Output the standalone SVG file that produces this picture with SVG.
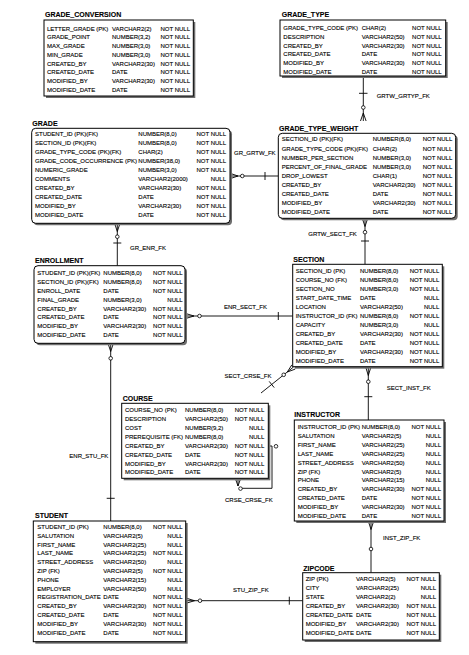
<svg xmlns="http://www.w3.org/2000/svg" width="469" height="655" viewBox="0 0 469 655">
<style>
.bg{fill:#fff}
.box{fill:#fff;stroke:#000;stroke-width:1}
.sh{fill:#6e6e6e}
text{font-family:"Liberation Sans",Arial,sans-serif;font-size:6px;fill:#000;stroke:#000;stroke-width:0.12}
.tt{font-size:7px;font-weight:bold;stroke-width:0.1}
.r{text-anchor:end}
.ln{stroke:#000;stroke-width:0.9;fill:none}
.ci{fill:#fff;stroke:#000;stroke-width:0.8}
</style>
<rect class="bg" x="0" y="0" width="469" height="655"/>

<g id="connectors">
  <!-- GRTW_GRTYP_FK -->
  <path class="ln" d="M363.3,76 V121 M359,93.3 H367.5 M363.3,113 L360.5,121 M363.3,113 L366.1,121"/>
  <circle class="ci" cx="363.3" cy="107.5" r="1.8"/>
  <text x="376.7" y="97.8">GRTW_GRTYP_FK</text>
  <!-- GR_GRTW_FK -->
  <path class="ln" d="M230,176 H278.3 M265,172 V180 M238,176 L230,173.3 M238,176 L230,178.7"/>
  <circle class="ci" cx="242.3" cy="176" r="1.8"/>
  <text x="234" y="154.5">GR_GRTW_FK</text>
  <!-- GR_ENR_FK -->
  <path class="ln" d="M117.3,223.3 V265.7 M113.3,243 H121.3 M117.3,231.5 L114.6,223.3 M117.3,231.5 L120,223.3"/>
  <circle class="ci" cx="117.3" cy="236.7" r="1.8"/>
  <text x="130" y="250.4">GR_ENR_FK</text>
  <!-- GRTW_SECT_FK -->
  <path class="ln" d="M365,218.3 V264.3 M361,241 H369 M365,226.5 L362.3,218.3 M365,226.5 L367.7,218.3"/>
  <circle class="ci" cx="365" cy="232.2" r="1.8"/>
  <text x="308.3" y="236">GRTW_SECT_FK</text>
  <!-- ENR_SECT_FK -->
  <path class="ln" d="M185,316 H292.7 M278.3,312 V320 M194,316 L185,313.3 M194,316 L185,318.7"/>
  <circle class="ci" cx="199.5" cy="316" r="1.8"/>
  <text x="224" y="308.8">ENR_SECT_FK</text>
  <!-- SECT_CRSE_FK -->
  <path class="ln" d="M293.5,367 L261,393 M287.3,372 L295.2,369.1 M287.3,372 L291.8,364.9 M274.2,387.6 L269.2,381.4"/>
  <circle class="ci" cx="283.7" cy="374.8" r="1.8"/>
  <text class="r" x="271.5" y="377.6">SECT_CRSE_FK</text>
  <!-- SECT_INST_FK -->
  <path class="ln" d="M368.3,366.7 V420 M364.3,396.7 H372.3 M368.3,375.5 L365.6,366.7 M368.3,375.5 L371,366.7"/>
  <circle class="ci" cx="368.3" cy="381.7" r="1.8"/>
  <text x="386.7" y="390.4">SECT_INST_FK</text>
  <!-- CRSE_CRSE_FK -->
  <path class="ln" d="M268.3,446 H272 V488.3 H240.5 M238,478.3 V486 M238,486 L235.3,478.3 M238,486 L240.7,478.3"/>
  <circle class="ci" cx="276" cy="446.3" r="1.8"/>
  <circle class="ci" cx="240.5" cy="488.6" r="1.8"/>
  <text x="225" y="502">CRSE_CRSE_FK</text>
  <!-- ENR_STU_FK -->
  <path class="ln" d="M110.7,343.3 V521 M106.7,498.3 H114.7 M110.7,351.5 L108,343.3 M110.7,351.5 L113.4,343.3"/>
  <circle class="ci" cx="110.7" cy="358.3" r="1.8"/>
  <text x="69.3" y="458">ENR_STU_FK</text>
  <!-- INST_ZIP_FK -->
  <path class="ln" d="M371,521 V572.7 M371,529.5 L368.3,521 M371,529.5 L373.7,521"/>
  <circle class="ci" cx="371" cy="549" r="1.8"/>
  <text x="383" y="539.5">INST_ZIP_FK</text>
  <!-- STU_ZIP_FK -->
  <path class="ln" d="M185.7,600.7 H302.7 M289.3,596.7 V604.7 M194.5,600.7 L185.7,598 M194.5,600.7 L185.7,603.4"/>
  <circle class="ci" cx="200" cy="600.7" r="1.8"/>
  <text x="233" y="592.3">STU_ZIP_FK</text>
</g>

<g id="grade_conversion">
  <text class="tt" x="45" y="17.3">GRADE_CONVERSION</text>
  <rect class="sh" x="46" y="22" width="149.3" height="76"/>
  <rect class="box" x="44" y="20" width="149.3" height="76"/>
  <text x="47" y="30.5">LETTER_GRADE (PK)</text><text x="112" y="30.5">VARCHAR2(2)</text><text class="r" x="190" y="30.5">NOT NULL</text>
  <text x="47" y="39.2">GRADE_POINT</text><text x="112" y="39.2">NUMBER(3,2)</text><text class="r" x="190" y="39.2">NOT NULL</text>
  <text x="47" y="48">MAX_GRADE</text><text x="112" y="48">NUMBER(3,0)</text><text class="r" x="190" y="48">NOT NULL</text>
  <text x="47" y="56.8">MIN_GRADE</text><text x="112" y="56.8">NUMBER(3,0)</text><text class="r" x="190" y="56.8">NOT NULL</text>
  <text x="47" y="65.5">CREATED_BY</text><text x="112" y="65.5">VARCHAR2(30)</text><text class="r" x="190" y="65.5">NOT NULL</text>
  <text x="47" y="74.3">CREATED_DATE</text><text x="112" y="74.3">DATE</text><text class="r" x="190" y="74.3">NOT NULL</text>
  <text x="47" y="83">MODIFIED_BY</text><text x="112" y="83">VARCHAR2(30)</text><text class="r" x="190" y="83">NOT NULL</text>
  <text x="47" y="91.8">MODIFIED_DATE</text><text x="112" y="91.8">DATE</text><text class="r" x="190" y="91.8">NOT NULL</text>
</g>

<g id="grade_type">
  <text class="tt" x="281.7" y="17.3">GRADE_TYPE</text>
  <rect class="sh" x="282" y="22" width="165.7" height="56"/>
  <rect class="box" x="280" y="20" width="165.7" height="56"/>
  <text x="283.3" y="29.8">GRADE_TYPE_CODE (PK)</text><text x="361.7" y="29.8">CHAR(2)</text><text class="r" x="441.7" y="29.8">NOT NULL</text>
  <text x="283.3" y="38.7">DESCRIPTION</text><text x="361.7" y="38.7">VARCHAR2(50)</text><text class="r" x="441.7" y="38.7">NOT NULL</text>
  <text x="283.3" y="47.6">CREATED_BY</text><text x="361.7" y="47.6">VARCHAR2(30)</text><text class="r" x="441.7" y="47.6">NOT NULL</text>
  <text x="283.3" y="56.4">CREATED_DATE</text><text x="361.7" y="56.4">DATE</text><text class="r" x="441.7" y="56.4">NOT NULL</text>
  <text x="283.3" y="65.3">MODIFIED_BY</text><text x="361.7" y="65.3">VARCHAR2(30)</text><text class="r" x="441.7" y="65.3">NOT NULL</text>
  <text x="283.3" y="74.1">MODIFIED_DATE</text><text x="361.7" y="74.1">DATE</text><text class="r" x="441.7" y="74.1">NOT NULL</text>
</g>

<g id="grade">
  <text class="tt" x="32.3" y="125.5">GRADE</text>
  <rect class="sh" x="33.7" y="130.3" width="198.3" height="95" rx="4"/>
  <rect class="box" x="31.7" y="128.3" width="198.3" height="95" rx="4"/>
  <text x="35" y="136.4">STUDENT_ID (PK)(FK)</text><text x="138.3" y="136.4">NUMBER(8,0)</text><text class="r" x="226" y="136.4">NOT NULL</text>
  <text x="35" y="145.4">SECTION_ID (PK)(FK)</text><text x="138.3" y="145.4">NUMBER(8,0)</text><text class="r" x="226" y="145.4">NOT NULL</text>
  <text x="35" y="154.3">GRADE_TYPE_CODE (PK)(FK)</text><text x="138.3" y="154.3">CHAR(2)</text><text class="r" x="226" y="154.3">NOT NULL</text>
  <text x="35" y="163.3">GRADE_CODE_OCCURRENCE (PK)</text><text x="138.3" y="163.3">NUMBER(38,0)</text><text class="r" x="226" y="163.3">NOT NULL</text>
  <text x="35" y="172.3">NUMERIC_GRADE</text><text x="138.3" y="172.3">NUMBER(3,0)</text><text class="r" x="226" y="172.3">NOT NULL</text>
  <text x="35" y="181.3">COMMENTS</text><text x="138.3" y="181.3">VARCHAR2(2000)</text><text class="r" x="226" y="181.3">NULL</text>
  <text x="35" y="190.2">CREATED_BY</text><text x="138.3" y="190.2">VARCHAR2(30)</text><text class="r" x="226" y="190.2">NOT NULL</text>
  <text x="35" y="199.2">CREATED_DATE</text><text x="138.3" y="199.2">DATE</text><text class="r" x="226" y="199.2">NOT NULL</text>
  <text x="35" y="208.2">MODIFIED_BY</text><text x="138.3" y="208.2">VARCHAR2(30)</text><text class="r" x="226" y="208.2">NOT NULL</text>
  <text x="35" y="217.1">MODIFIED_DATE</text><text x="138.3" y="217.1">DATE</text><text class="r" x="226" y="217.1">NOT NULL</text>
</g>

<g id="grade_type_weight">
  <text class="tt" x="279" y="130.5">GRADE_TYPE_WEIGHT</text>
  <rect class="sh" x="280.3" y="135.3" width="177.4" height="85" rx="4"/>
  <rect class="box" x="278.3" y="133.3" width="177.4" height="85" rx="4"/>
  <text x="281.7" y="141.4">SECTION_ID (PK)(FK)</text><text x="372.7" y="141.4">NUMBER(8,0)</text><text class="r" x="452.3" y="141.4">NOT NULL</text>
  <text x="281.7" y="150.5">GRADE_TYPE_CODE (PK)(FK)</text><text x="372.7" y="150.5">CHAR(2)</text><text class="r" x="452.3" y="150.5">NOT NULL</text>
  <text x="281.7" y="159.5">NUMBER_PER_SECTION</text><text x="372.7" y="159.5">NUMBER(3,0)</text><text class="r" x="452.3" y="159.5">NOT NULL</text>
  <text x="281.7" y="168.6">PERCENT_OF_FINAL_GRADE</text><text x="372.7" y="168.6">NUMBER(3,0)</text><text class="r" x="452.3" y="168.6">NOT NULL</text>
  <text x="281.7" y="177.6">DROP_LOWEST</text><text x="372.7" y="177.6">CHAR(1)</text><text class="r" x="452.3" y="177.6">NOT NULL</text>
  <text x="281.7" y="186.7">CREATED_BY</text><text x="372.7" y="186.7">VARCHAR2(30)</text><text class="r" x="452.3" y="186.7">NOT NULL</text>
  <text x="281.7" y="195.7">CREATED_DATE</text><text x="372.7" y="195.7">DATE</text><text class="r" x="452.3" y="195.7">NOT NULL</text>
  <text x="281.7" y="204.8">MODIFIED_BY</text><text x="372.7" y="204.8">VARCHAR2(30)</text><text class="r" x="452.3" y="204.8">NOT NULL</text>
  <text x="281.7" y="213.8">MODIFIED_DATE</text><text x="372.7" y="213.8">DATE</text><text class="r" x="452.3" y="213.8">NOT NULL</text>
</g>

<g id="enrollment">
  <text class="tt" x="35" y="262.7">ENROLLMENT</text>
  <rect class="sh" x="36" y="267.7" width="151" height="77.6" rx="4"/>
  <rect class="box" x="34" y="265.7" width="151" height="77.6" rx="4"/>
  <text x="37.3" y="275.4">STUDENT_ID (PK)(FK)</text><text x="103.3" y="275.4">NUMBER(8,0)</text><text class="r" x="182.7" y="275.4">NOT NULL</text>
  <text x="37.3" y="284.2">SECTION_ID (PK)(FK)</text><text x="103.3" y="284.2">NUMBER(8,0)</text><text class="r" x="182.7" y="284.2">NOT NULL</text>
  <text x="37.3" y="293">ENROLL_DATE</text><text x="103.3" y="293">DATE</text><text class="r" x="182.7" y="293">NOT NULL</text>
  <text x="37.3" y="301.8">FINAL_GRADE</text><text x="103.3" y="301.8">NUMBER(3,0)</text><text class="r" x="182.7" y="301.8">NULL</text>
  <text x="37.3" y="310.6">CREATED_BY</text><text x="103.3" y="310.6">VARCHAR2(30)</text><text class="r" x="182.7" y="310.6">NOT NULL</text>
  <text x="37.3" y="319.4">CREATED_DATE</text><text x="103.3" y="319.4">DATE</text><text class="r" x="182.7" y="319.4">NOT NULL</text>
  <text x="37.3" y="328.2">MODIFIED_BY</text><text x="103.3" y="328.2">VARCHAR2(30)</text><text class="r" x="182.7" y="328.2">NOT NULL</text>
  <text x="37.3" y="337">MODIFIED_DATE</text><text x="103.3" y="337">DATE</text><text class="r" x="182.7" y="337">NOT NULL</text>
</g>

<g id="section">
  <text class="tt" x="293.3" y="261.5">SECTION</text>
  <rect class="sh" x="294.7" y="266.3" width="149.6" height="102.4"/>
  <rect class="box" x="292.7" y="264.3" width="149.6" height="102.4"/>
  <text x="295.7" y="273.1">SECTION_ID (PK)</text><text x="360" y="273.1">NUMBER(8,0)</text><text class="r" x="439.3" y="273.1">NOT NULL</text>
  <text x="295.7" y="282.1">COURSE_NO (FK)</text><text x="360" y="282.1">NUMBER(8,0)</text><text class="r" x="439.3" y="282.1">NOT NULL</text>
  <text x="295.7" y="291.1">SECTION_NO</text><text x="360" y="291.1">NUMBER(3,0)</text><text class="r" x="439.3" y="291.1">NOT NULL</text>
  <text x="295.7" y="300.1">START_DATE_TIME</text><text x="360" y="300.1">DATE</text><text class="r" x="439.3" y="300.1">NULL</text>
  <text x="295.7" y="309.1">LOCATION</text><text x="360" y="309.1">VARCHAR2(50)</text><text class="r" x="439.3" y="309.1">NULL</text>
  <text x="295.7" y="318.1">INSTRUCTOR_ID (FK)</text><text x="360" y="318.1">NUMBER(8,0)</text><text class="r" x="439.3" y="318.1">NOT NULL</text>
  <text x="295.7" y="327.1">CAPACITY</text><text x="360" y="327.1">NUMBER(3,0)</text><text class="r" x="439.3" y="327.1">NULL</text>
  <text x="295.7" y="336.1">CREATED_BY</text><text x="360" y="336.1">VARCHAR2(30)</text><text class="r" x="439.3" y="336.1">NOT NULL</text>
  <text x="295.7" y="345.1">CREATED_DATE</text><text x="360" y="345.1">DATE</text><text class="r" x="439.3" y="345.1">NOT NULL</text>
  <text x="295.7" y="354.1">MODIFIED_BY</text><text x="360" y="354.1">VARCHAR2(30)</text><text class="r" x="439.3" y="354.1">NOT NULL</text>
  <text x="295.7" y="363.1">MODIFIED_DATE</text><text x="360" y="363.1">DATE</text><text class="r" x="439.3" y="363.1">NOT NULL</text>
</g>

<g id="course">
  <text class="tt" x="122.7" y="401">COURSE</text>
  <rect class="sh" x="123.7" y="405.3" width="146.6" height="75"/>
  <rect class="box" x="121.7" y="403.3" width="146.6" height="75"/>
  <text x="125" y="412.1">COURSE_NO (PK)</text><text x="185" y="412.1">NUMBER(8,0)</text><text class="r" x="264.3" y="412.1">NOT NULL</text>
  <text x="125" y="421">DESCRIPTION</text><text x="185" y="421">VARCHAR2(50)</text><text class="r" x="264.3" y="421">NOT NULL</text>
  <text x="125" y="429.9">COST</text><text x="185" y="429.9">NUMBER(9,2)</text><text class="r" x="264.3" y="429.9">NULL</text>
  <text x="125" y="438.8">PREREQUISITE (FK)</text><text x="185" y="438.8">NUMBER(8,0)</text><text class="r" x="264.3" y="438.8">NULL</text>
  <text x="125" y="447.7">CREATED_BY</text><text x="185" y="447.7">VARCHAR2(30)</text><text class="r" x="264.3" y="447.7">NOT NULL</text>
  <text x="125" y="456.6">CREATED_DATE</text><text x="185" y="456.6">DATE</text><text class="r" x="264.3" y="456.6">NOT NULL</text>
  <text x="125" y="465.5">MODIFIED_BY</text><text x="185" y="465.5">VARCHAR2(30)</text><text class="r" x="264.3" y="465.5">NOT NULL</text>
  <text x="125" y="474.4">MODIFIED_DATE</text><text x="185" y="474.4">DATE</text><text class="r" x="264.3" y="474.4">NOT NULL</text>
</g>

<g id="instructor">
  <text class="tt" x="294.3" y="416.5">INSTRUCTOR</text>
  <rect class="sh" x="296.3" y="422" width="149.7" height="101"/>
  <rect class="box" x="294.3" y="420" width="149.7" height="101"/>
  <text x="297.7" y="428.8">INSTRUCTOR_ID (PK)</text><text x="361.7" y="428.8">NUMBER(8,0)</text><text class="r" x="441" y="428.8">NOT NULL</text>
  <text x="297.7" y="437.7">SALUTATION</text><text x="361.7" y="437.7">VARCHAR2(5)</text><text class="r" x="441" y="437.7">NULL</text>
  <text x="297.7" y="446.7">FIRST_NAME</text><text x="361.7" y="446.7">VARCHAR2(25)</text><text class="r" x="441" y="446.7">NULL</text>
  <text x="297.7" y="455.6">LAST_NAME</text><text x="361.7" y="455.6">VARCHAR2(25)</text><text class="r" x="441" y="455.6">NULL</text>
  <text x="297.7" y="464.5">STREET_ADDRESS</text><text x="361.7" y="464.5">VARCHAR2(50)</text><text class="r" x="441" y="464.5">NULL</text>
  <text x="297.7" y="473.5">ZIP (FK)</text><text x="361.7" y="473.5">VARCHAR2(5)</text><text class="r" x="441" y="473.5">NULL</text>
  <text x="297.7" y="482.4">PHONE</text><text x="361.7" y="482.4">VARCHAR2(15)</text><text class="r" x="441" y="482.4">NULL</text>
  <text x="297.7" y="491.3">CREATED_BY</text><text x="361.7" y="491.3">VARCHAR2(30)</text><text class="r" x="441" y="491.3">NOT NULL</text>
  <text x="297.7" y="500.2">CREATED_DATE</text><text x="361.7" y="500.2">DATE</text><text class="r" x="441" y="500.2">NOT NULL</text>
  <text x="297.7" y="509.2">MODIFIED_BY</text><text x="361.7" y="509.2">VARCHAR2(30)</text><text class="r" x="441" y="509.2">NOT NULL</text>
  <text x="297.7" y="518.1">MODIFIED_DATE</text><text x="361.7" y="518.1">DATE</text><text class="r" x="441" y="518.1">NOT NULL</text>
</g>

<g id="student">
  <text class="tt" x="35" y="518.3">STUDENT</text>
  <rect class="sh" x="35.3" y="523" width="152.4" height="120.7"/>
  <rect class="box" x="33.3" y="521" width="152.4" height="120.7"/>
  <text x="37.3" y="528.8">STUDENT_ID (PK)</text><text x="103.3" y="528.8">NUMBER(8,0)</text><text class="r" x="182.7" y="528.8">NOT NULL</text>
  <text x="37.3" y="537.6">SALUTATION</text><text x="103.3" y="537.6">VARCHAR2(5)</text><text class="r" x="182.7" y="537.6">NULL</text>
  <text x="37.3" y="546.5">FIRST_NAME</text><text x="103.3" y="546.5">VARCHAR2(25)</text><text class="r" x="182.7" y="546.5">NULL</text>
  <text x="37.3" y="555.3">LAST_NAME</text><text x="103.3" y="555.3">VARCHAR2(25)</text><text class="r" x="182.7" y="555.3">NOT NULL</text>
  <text x="37.3" y="564.1">STREET_ADDRESS</text><text x="103.3" y="564.1">VARCHAR2(50)</text><text class="r" x="182.7" y="564.1">NULL</text>
  <text x="37.3" y="573">ZIP (FK)</text><text x="103.3" y="573">VARCHAR2(5)</text><text class="r" x="182.7" y="573">NOT NULL</text>
  <text x="37.3" y="581.8">PHONE</text><text x="103.3" y="581.8">VARCHAR2(15)</text><text class="r" x="182.7" y="581.8">NULL</text>
  <text x="37.3" y="590.6">EMPLOYER</text><text x="103.3" y="590.6">VARCHAR2(50)</text><text class="r" x="182.7" y="590.6">NULL</text>
  <text x="37.3" y="599.4">REGISTRATION_DATE</text><text x="103.3" y="599.4">DATE</text><text class="r" x="182.7" y="599.4">NOT NULL</text>
  <text x="37.3" y="608.3">CREATED_BY</text><text x="103.3" y="608.3">VARCHAR2(30)</text><text class="r" x="182.7" y="608.3">NOT NULL</text>
  <text x="37.3" y="617.1">CREATED_DATE</text><text x="103.3" y="617.1">DATE</text><text class="r" x="182.7" y="617.1">NOT NULL</text>
  <text x="37.3" y="626">MODIFIED_BY</text><text x="103.3" y="626">VARCHAR2(30)</text><text class="r" x="182.7" y="626">NOT NULL</text>
  <text x="37.3" y="634.8">MODIFIED_DATE</text><text x="103.3" y="634.8">DATE</text><text class="r" x="182.7" y="634.8">NOT NULL</text>
</g>

<g id="zipcode">
  <text class="tt" x="303.3" y="570.5">ZIPCODE</text>
  <rect class="sh" x="304.7" y="574.7" width="136.6" height="67.3"/>
  <rect class="box" x="302.7" y="572.7" width="136.6" height="67.3"/>
  <text x="305.7" y="581.4">ZIP (PK)</text><text x="356" y="581.4">VARCHAR2(5)</text><text class="r" x="436" y="581.4">NOT NULL</text>
  <text x="305.7" y="590.3">CITY</text><text x="356" y="590.3">VARCHAR2(25)</text><text class="r" x="436" y="590.3">NULL</text>
  <text x="305.7" y="599.3">STATE</text><text x="356" y="599.3">VARCHAR2(2)</text><text class="r" x="436" y="599.3">NULL</text>
  <text x="305.7" y="608.2">CREATED_BY</text><text x="356" y="608.2">VARCHAR2(30)</text><text class="r" x="436" y="608.2">NOT NULL</text>
  <text x="305.7" y="617.2">CREATED_DATE</text><text x="356" y="617.2">DATE</text><text class="r" x="436" y="617.2">NOT NULL</text>
  <text x="305.7" y="626.1">MODIFIED_BY</text><text x="356" y="626.1">VARCHAR2(30)</text><text class="r" x="436" y="626.1">NOT NULL</text>
  <text x="305.7" y="635.1">MODIFIED_DATE</text><text x="356" y="635.1">DATE</text><text class="r" x="436" y="635.1">NOT NULL</text>
</g>
</svg>
